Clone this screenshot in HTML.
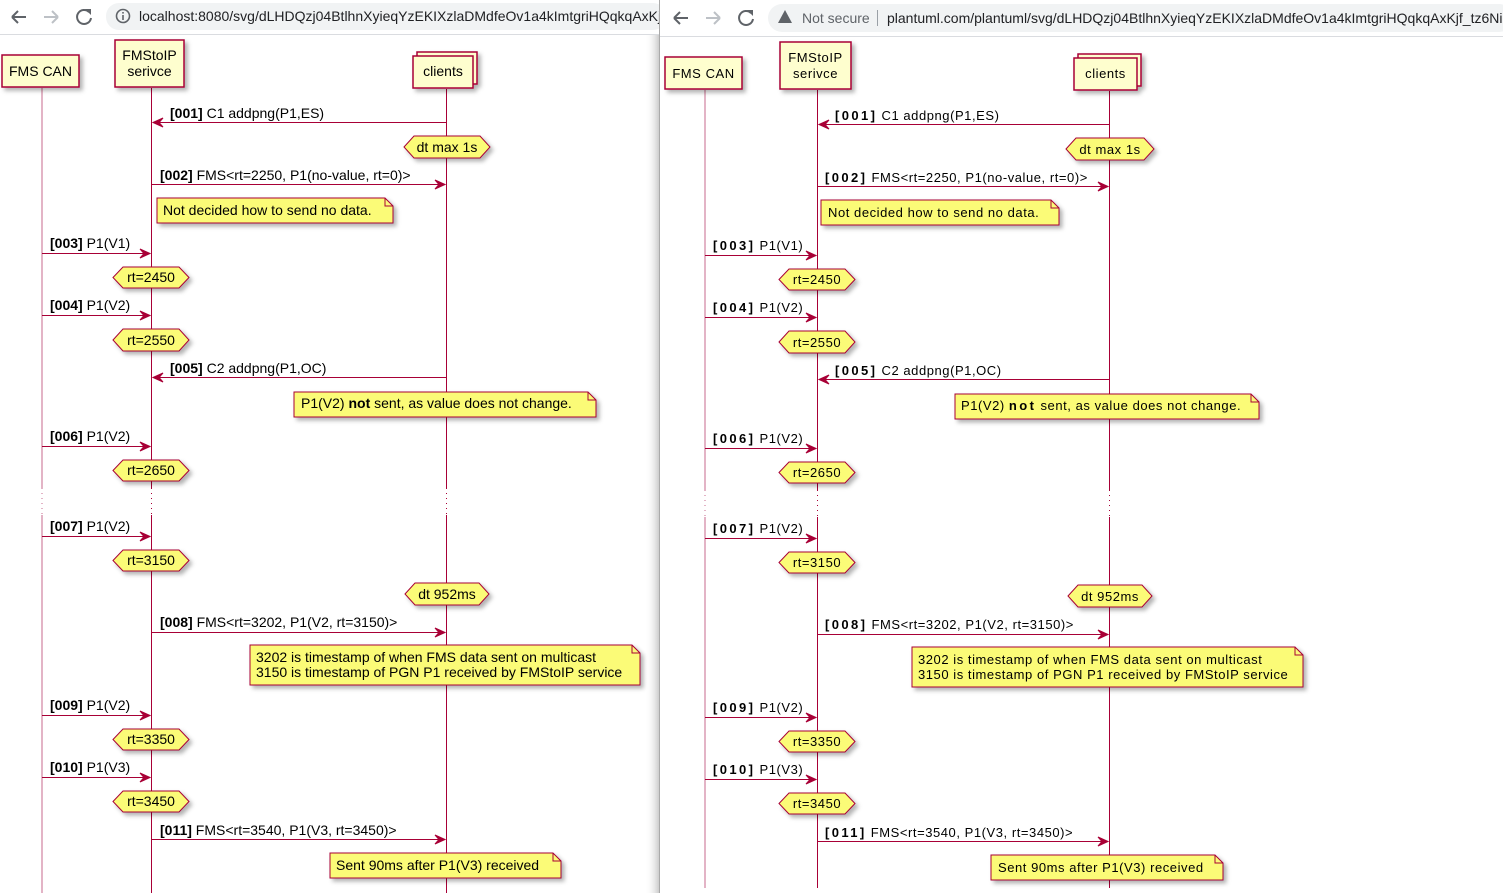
<!DOCTYPE html>
<html><head><meta charset="utf-8"><style>
html,body{margin:0;padding:0;width:1503px;height:893px;overflow:hidden;background:#fff;font-family:"Liberation Sans",Arial,sans-serif}
svg text{font-family:"Liberation Sans",Arial,sans-serif;font-size:14px;fill:#000}
.r text{font-size:13px;letter-spacing:0.55px}
.r text tspan.b{letter-spacing:2.4px}
.b{font-weight:bold}
.m{text-anchor:middle}
</style></head><body>
<svg width="1503" height="893" xmlns="http://www.w3.org/2000/svg">
<defs>
<filter id="sh" x="-10%" y="-10%" width="130%" height="150%"><feDropShadow dx="3" dy="3" stdDeviation="2" flood-color="#000" flood-opacity="0.3"/></filter>
<linearGradient id="dg" x1="0" x2="1"><stop offset="0" stop-color="#fff" stop-opacity="0"/><stop offset="1" stop-color="#ccc"/></linearGradient>
</defs>
<rect x="0" y="0" width="660" height="35" fill="#fff"/>
<line x1="0" y1="34.5" x2="660" y2="34.5" stroke="#dadce0"/>
<rect x="106" y="3" width="560" height="27" rx="13" fill="#f1f3f4"/>
<path d="M12 17h14M12 17l6-6M12 17l6 6" stroke="#5f6368" stroke-width="2" fill="none"/>
<path d="M44 17h14M58 17l-6-6M58 17l-6 6" stroke="#bdc1c6" stroke-width="2" fill="none"/>
<path d="M89 12a7 7 0 1 0 2 6" stroke="#5f6368" stroke-width="2" fill="none"/><path d="M85 9h6v6z" fill="#5f6368"/>
<circle cx="123" cy="16" r="6.5" fill="none" stroke="#5f6368" stroke-width="1.6"/><rect x="122.2" y="15" width="1.6" height="5" fill="#5f6368"/><rect x="122.2" y="12" width="1.6" height="1.6" fill="#5f6368"/>
<text x="139" y="21" style="font-size:14px;fill:#202124">localhost:8080/svg/dLHDQzj04BtlhnXyieqYzEKIXzlaDMdfeOv1a4kImtgriHQqkqAxKjf_</text>
<g id="L">
<g stroke="#A80036" stroke-width="1">
<line x1="42" y1="88" x2="42" y2="488" stroke="#c76a8c"/><line x1="42" y1="488" x2="42" y2="515" stroke="#c76a8c" stroke-dasharray="1,4"/><line x1="42" y1="515" x2="42" y2="893" stroke="#c76a8c"/>
<line x1="151.5" y1="88" x2="151.5" y2="488"/><line x1="151.5" y1="488" x2="151.5" y2="515" stroke-dasharray="1,4"/><line x1="151.5" y1="515" x2="151.5" y2="893"/>
<line x1="446.5" y1="89" x2="446.5" y2="488"/><line x1="446.5" y1="488" x2="446.5" y2="515" stroke-dasharray="1,4"/><line x1="446.5" y1="515" x2="446.5" y2="893"/>
</g>
<g fill="#FEFECE" stroke="#A80036" stroke-width="1.5" filter="url(#sh)">
<rect x="2" y="55" width="77" height="32"/>
<rect x="115" y="40" width="69" height="47"/>
<rect x="417" y="52" width="60" height="32"/>
<rect x="413" y="56" width="60" height="32"/>
</g>
<text class="m" x="40.5" y="76">FMS CAN</text>
<text class="m" x="149.5" y="60">FMStoIP</text><text class="m" x="149.5" y="76">serivce</text>
<text class="m" x="443" y="76">clients</text>
<g stroke="#A80036" stroke-width="1" fill="#A80036">
<line x1="155" y1="122.5" x2="446" y2="122.5"/><polygon points="153,122.5 163,118 159,122.5 163,127"/>
<line x1="151" y1="184.5" x2="443" y2="184.5"/><polygon points="445,184.5 435,180 439,184.5 435,189"/>
<line x1="42" y1="253.5" x2="148" y2="253.5"/><polygon points="150,253.5 140,249 144,253.5 140,258"/>
<line x1="42" y1="315.5" x2="148" y2="315.5"/><polygon points="150,315.5 140,311 144,315.5 140,320"/>
<line x1="155" y1="377.5" x2="446" y2="377.5"/><polygon points="153,377.5 163,373 159,377.5 163,382"/>
<line x1="42" y1="446.5" x2="148" y2="446.5"/><polygon points="150,446.5 140,442 144,446.5 140,451"/>
<line x1="42" y1="536.5" x2="148" y2="536.5"/><polygon points="150,536.5 140,532 144,536.5 140,541"/>
<line x1="151" y1="632.5" x2="443" y2="632.5"/><polygon points="445,632.5 435,628 439,632.5 435,637"/>
<line x1="42" y1="715.5" x2="148" y2="715.5"/><polygon points="150,715.5 140,711 144,715.5 140,720"/>
<line x1="42" y1="777.5" x2="148" y2="777.5"/><polygon points="150,777.5 140,773 144,777.5 140,782"/>
<line x1="151" y1="839.5" x2="443" y2="839.5"/><polygon points="445,839.5 435,835 439,839.5 435,844"/>
</g>
<g fill="#FBFB77" stroke="#A80036" stroke-width="1" filter="url(#sh)">
<polygon points="404,147 414,136 480,136 490,147 480,158 414,158"/>
<polygon points="113,277.5 123,267 179,267 189,277.5 179,288 123,288"/>
<polygon points="113,340 123,329 179,329 189,340 179,351 123,351"/>
<polygon points="113,470.5 123,460 179,460 189,470.5 179,481 123,481"/>
<polygon points="113,560.5 123,550 179,550 189,560.5 179,571 123,571"/>
<polygon points="405,594 415,583 479,583 489,594 479,605 415,605"/>
<polygon points="113,739.5 123,729 179,729 189,739.5 179,750 123,750"/>
<polygon points="113,801.5 123,791 179,791 189,801.5 179,812 123,812"/>
<path d="M157 198H385L393 206V223H157Z"/>
<path d="M294 392H588L596 400V417H294Z"/>
<path d="M250 645H632L640 653V685H250Z"/>
<path d="M330 853H553L561 861V878H330Z"/>
</g>
<g fill="none" stroke="#A80036" stroke-width="1">
<path d="M385 198V206H393"/><path d="M588 392V400H596"/><path d="M632 645V653H640"/><path d="M553 853V861H561"/>
</g>
<text x="170" y="118"><tspan class="b">[001]</tspan> C1 addpng(P1,ES)</text>
<text class="m" x="447" y="152">dt max 1s</text>
<text x="160" y="180"><tspan class="b">[002]</tspan> FMS&lt;rt=2250, P1(no-value, rt=0)&gt;</text>
<text x="163" y="215">Not decided how to send no data.</text>
<text x="50" y="248"><tspan class="b">[003]</tspan> P1(V1)</text>
<text class="m" x="151" y="282">rt=2450</text>
<text x="50" y="310"><tspan class="b">[004]</tspan> P1(V2)</text>
<text class="m" x="151" y="345">rt=2550</text>
<text x="170" y="373"><tspan class="b">[005]</tspan> C2 addpng(P1,OC)</text>
<text x="301" y="408">P1(V2) <tspan class="b">not</tspan> sent, as value does not change.</text>
<text x="50" y="441"><tspan class="b">[006]</tspan> P1(V2)</text>
<text class="m" x="151" y="475">rt=2650</text>
<text x="50" y="531"><tspan class="b">[007]</tspan> P1(V2)</text>
<text class="m" x="151" y="565">rt=3150</text>
<text class="m" x="447" y="599">dt 952ms</text>
<text x="160" y="627"><tspan class="b">[008]</tspan> FMS&lt;rt=3202, P1(V2, rt=3150)&gt;</text>
<text x="256" y="662">3202 is timestamp of when FMS data sent on multicast</text>
<text x="256" y="677">3150 is timestamp of PGN P1 received by FMStoIP service</text>
<text x="50" y="710"><tspan class="b">[009]</tspan> P1(V2)</text>
<text class="m" x="151" y="744">rt=3350</text>
<text x="50" y="772"><tspan class="b">[010]</tspan> P1(V3)</text>
<text class="m" x="151" y="806">rt=3450</text>
<text x="160" y="835"><tspan class="b">[011]</tspan> FMS&lt;rt=3540, P1(V3, rt=3450)&gt;</text>
<text x="336" y="870">Sent 90ms after P1(V3) received</text>
</g>
<rect x="645" y="35" width="14" height="858" fill="url(#dg)"/>
<rect x="659" y="0" width="844" height="893" fill="#fff"/>
<line x1="659.5" y1="0" x2="659.5" y2="893" stroke="#aaa"/>
<line x1="660" y1="36.5" x2="1503" y2="36.5" stroke="#dadce0"/>
<rect x="768" y="4" width="745" height="28" rx="14" fill="#f1f3f4"/>
<path d="M674 18h14M674 18l6-6M674 18l6 6" stroke="#5f6368" stroke-width="2" fill="none"/>
<path d="M706 18h14M720 18l-6-6M720 18l-6 6" stroke="#bdc1c6" stroke-width="2" fill="none"/>
<path d="M751 13a7 7 0 1 0 2 6" stroke="#5f6368" stroke-width="2" fill="none"/><path d="M747 10h6v6z" fill="#5f6368"/>
<polygon points="785,10 792,23 778,23" fill="#5f6368"/>
<text x="802" y="23" style="font-size:14px;fill:#5f6368">Not secure</text>
<line x1="877.5" y1="10" x2="877.5" y2="26" stroke="#9aa0a6"/>
<text x="887" y="23" style="font-size:14px;fill:#202124">plantuml.com/plantuml/svg/dLHDQzj04BtlhnXyieqYzEKIXzlaDMdfeOv1a4kImtgriHQqkqAxKjf_tz6NiC</text>
<g class="r" transform="translate(663,2)">
<g stroke="#A80036" stroke-width="1">
<line x1="42" y1="88" x2="42" y2="488" stroke="#c76a8c"/><line x1="42" y1="488" x2="42" y2="515" stroke="#c76a8c" stroke-dasharray="1,4"/><line x1="42" y1="515" x2="42" y2="886" stroke="#c76a8c"/>
<line x1="154.5" y1="88" x2="154.5" y2="488"/><line x1="154.5" y1="488" x2="154.5" y2="515" stroke-dasharray="1,4"/><line x1="154.5" y1="515" x2="154.5" y2="886"/>
<line x1="446.5" y1="89" x2="446.5" y2="488"/><line x1="446.5" y1="488" x2="446.5" y2="515" stroke-dasharray="1,4"/><line x1="446.5" y1="515" x2="446.5" y2="886"/>
</g>
<g fill="#FEFECE" stroke="#A80036" stroke-width="1.5" filter="url(#sh)">
<rect x="2" y="55" width="77" height="32"/>
<rect x="117" y="40" width="71" height="47"/>
<rect x="415" y="52" width="63" height="32"/>
<rect x="411" y="56" width="63" height="32"/>
</g>
<text class="m" x="40.5" y="76">FMS CAN</text>
<text class="m" x="152.5" y="60">FMStoIP</text><text class="m" x="152.5" y="76">serivce</text>
<text class="m" x="442.5" y="76">clients</text>
<g stroke="#A80036" stroke-width="1" fill="#A80036">
<line x1="158" y1="122.5" x2="446" y2="122.5"/><polygon points="156,122.5 166,118 162,122.5 166,127"/>
<line x1="154" y1="184.5" x2="443" y2="184.5"/><polygon points="445,184.5 435,180 439,184.5 435,189"/>
<line x1="42" y1="253.5" x2="151" y2="253.5"/><polygon points="153,253.5 143,249 147,253.5 143,258"/>
<line x1="42" y1="315.5" x2="151" y2="315.5"/><polygon points="153,315.5 143,311 147,315.5 143,320"/>
<line x1="158" y1="377.5" x2="446" y2="377.5"/><polygon points="156,377.5 166,373 162,377.5 166,382"/>
<line x1="42" y1="446.5" x2="151" y2="446.5"/><polygon points="153,446.5 143,442 147,446.5 143,451"/>
<line x1="42" y1="536.5" x2="151" y2="536.5"/><polygon points="153,536.5 143,532 147,536.5 143,541"/>
<line x1="154" y1="632.5" x2="443" y2="632.5"/><polygon points="445,632.5 435,628 439,632.5 435,637"/>
<line x1="42" y1="715.5" x2="151" y2="715.5"/><polygon points="153,715.5 143,711 147,715.5 143,720"/>
<line x1="42" y1="777.5" x2="151" y2="777.5"/><polygon points="153,777.5 143,773 147,777.5 143,782"/>
<line x1="154" y1="839.5" x2="443" y2="839.5"/><polygon points="445,839.5 435,835 439,839.5 435,844"/>
</g>
<g fill="#FBFB77" stroke="#A80036" stroke-width="1" filter="url(#sh)">
<polygon points="403,147 413,136 481,136 491,147 481,158 413,158"/>
<polygon points="116,277.5 126,267 182,267 192,277.5 182,288 126,288"/>
<polygon points="116,340 126,329 182,329 192,340 182,351 126,351"/>
<polygon points="116,470.5 126,460 182,460 192,470.5 182,481 126,481"/>
<polygon points="116,560.5 126,550 182,550 192,560.5 182,571 126,571"/>
<polygon points="405,594 415,583 479,583 489,594 479,605 415,605"/>
<polygon points="116,739.5 126,729 182,729 192,739.5 182,750 126,750"/>
<polygon points="116,801.5 126,791 182,791 192,801.5 182,812 126,812"/>
<path d="M158 198H388L396 206V223H158Z"/>
<path d="M292 392H588L596 400V417H292Z"/>
<path d="M249 645H632L640 653V685H249Z"/>
<path d="M328 853H552L560 861V878H328Z"/>
</g>
<g fill="none" stroke="#A80036" stroke-width="1">
<path d="M388 198V206H396"/><path d="M588 392V400H596"/><path d="M632 645V653H640"/><path d="M552 853V861H560"/>
</g>
<text x="172" y="118"><tspan class="b">[001]</tspan> C1 addpng(P1,ES)</text>
<text class="m" x="447" y="152">dt max 1s</text>
<text x="162" y="180"><tspan class="b">[002]</tspan> FMS&lt;rt=2250, P1(no-value, rt=0)&gt;</text>
<text x="165" y="215">Not decided how to send no data.</text>
<text x="50" y="248"><tspan class="b">[003]</tspan> P1(V1)</text>
<text class="m" x="154" y="282">rt=2450</text>
<text x="50" y="310"><tspan class="b">[004]</tspan> P1(V2)</text>
<text class="m" x="154" y="345">rt=2550</text>
<text x="172" y="373"><tspan class="b">[005]</tspan> C2 addpng(P1,OC)</text>
<text x="298" y="408">P1(V2) <tspan class="b">not</tspan> sent, as value does not change.</text>
<text x="50" y="441"><tspan class="b">[006]</tspan> P1(V2)</text>
<text class="m" x="154" y="475">rt=2650</text>
<text x="50" y="531"><tspan class="b">[007]</tspan> P1(V2)</text>
<text class="m" x="154" y="565">rt=3150</text>
<text class="m" x="447" y="599">dt 952ms</text>
<text x="162" y="627"><tspan class="b">[008]</tspan> FMS&lt;rt=3202, P1(V2, rt=3150)&gt;</text>
<text x="255" y="662">3202 is timestamp of when FMS data sent on multicast</text>
<text x="255" y="677">3150 is timestamp of PGN P1 received by FMStoIP service</text>
<text x="50" y="710"><tspan class="b">[009]</tspan> P1(V2)</text>
<text class="m" x="154" y="744">rt=3350</text>
<text x="50" y="772"><tspan class="b">[010]</tspan> P1(V3)</text>
<text class="m" x="154" y="806">rt=3450</text>
<text x="162" y="835"><tspan class="b">[011]</tspan> FMS&lt;rt=3540, P1(V3, rt=3450)&gt;</text>
<text x="335" y="870">Sent 90ms after P1(V3) received</text>
</g>
</svg>
</body></html>
